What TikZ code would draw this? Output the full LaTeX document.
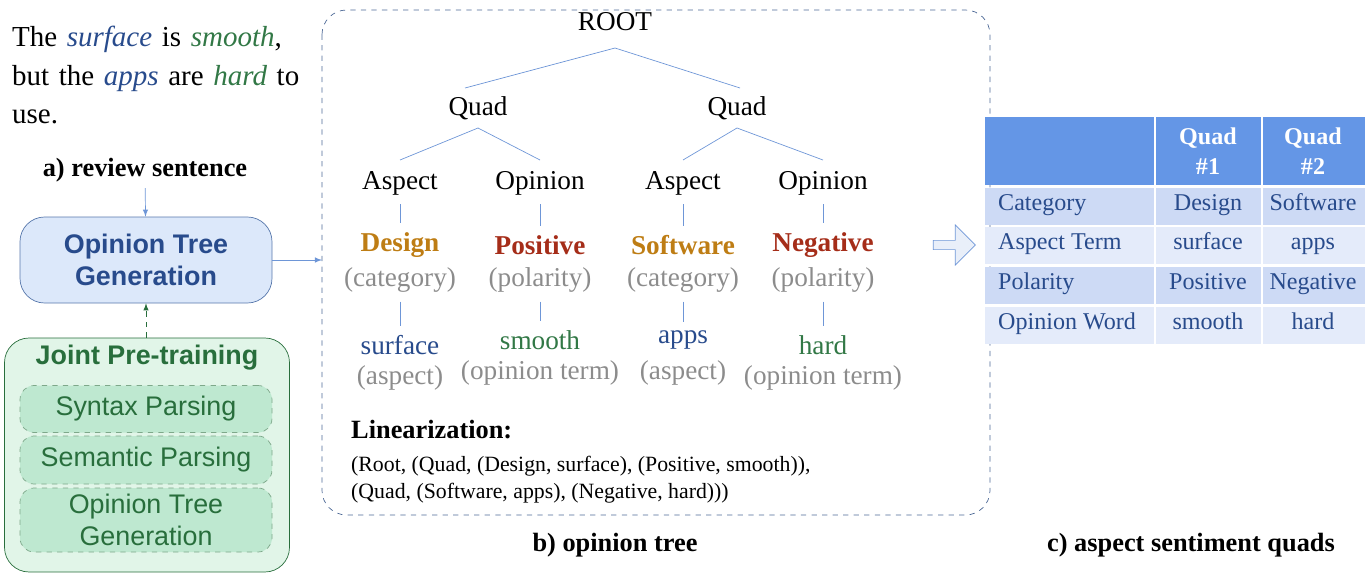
\documentclass[tikz,border=0pt]{standalone}
\usepackage{fontspec}
\setmainfont{Liberation Serif}
\newfontfamily\boxfont{Liberation Sans}
\usetikzlibrary{positioning, arrows, calc, shapes.arrows}
\definecolor{asp}{RGB}{40,75,140}
\definecolor{opi}{RGB}{50,120,70}
\definecolor{cat}{RGB}{190,125,20}
\definecolor{pol}{RGB}{165,45,25}
\definecolor{lbl}{RGB}{140,140,140}
\definecolor{edge}{RGB}{110,150,215}
\definecolor{jgreen}{RGB}{40,110,60}
\definecolor{jfill}{RGB}{225,245,232}
\definecolor{sfill}{RGB}{190,232,208}
\definecolor{gfill}{RGB}{220,232,250}
\definecolor{hdr}{RGB}{100,150,230}
\definecolor{rowA}{RGB}{205,218,245}
\definecolor{rowB}{RGB}{228,235,250}
\begin{document}
\begin{tikzpicture}[x=0.02cm, y=-0.02cm,
    word/.style={font=\fontsize{15.5}{18}\selectfont, inner sep=1pt},
    tag/.style={word, text=lbl},
    bold/.style={word, font=\fontsize{15.5}{18}\selectfont\bfseries},
    treeEdge/.style={draw=edge, thin},
    caption/.style={font=\fontsize{15}{18}\selectfont\bfseries},
    genBox/.style={rectangle, draw=edge!80!black, fill=gfill, rounded corners=14pt, align=center, font=\fontsize{15.3}{18}\selectfont\boxfont\bfseries, text=asp},
    preBox/.style={rectangle, draw=jgreen, fill=jfill, rounded corners=14pt},
    subBox/.style={rectangle, draw=jgreen!60, dashed, fill=sfill, rounded corners=8pt, align=center, font=\fontsize{15.3}{18}\selectfont\boxfont, text=jgreen, minimum width=252*0.02cm},
    cell/.style={font=\fontsize{13.7}{16}\selectfont, text=asp, text height=1.6ex, text depth=0.45ex},
    hdrCell/.style={font=\fontsize{13.7}{17}\selectfont\bfseries, text=white, align=center}]
 \useasboundingbox (0,0) rectangle (1370,575);

 % a) review sentence
 \node[word, font=\fontsize{16.5}{19}\selectfont, anchor=west, align=left, text width=300*0.02cm] (sent) at (10,75)
   {The \textcolor{asp}{\itshape surface} is \textcolor{opi}{\itshape smooth},\\[3pt]
    but the \textcolor{asp}{\itshape apps} are \textcolor{opi}{\itshape hard} to\\[3pt] use.};
 \node[caption] (capA) at (145,170) {a) review sentence};

 \node[genBox, minimum width=252*0.02cm, minimum height=86*0.02cm] (gen) at (146,260) {Opinion Tree\\Generation};
 \node[preBox, minimum width=285*0.02cm, minimum height=234*0.02cm] (pre) at (147,455) {};
 \node[font=\fontsize{15.3}{18}\selectfont\boxfont\bfseries, text=jgreen] (preT) at (147,358) {Joint Pre-training};
 \node[subBox, minimum height=47*0.02cm] (syn) at (146,409) {Syntax Parsing};
 \node[subBox, minimum height=48*0.02cm] (sem) at (146,460) {Semantic Parsing};
 \node[subBox, minimum height=64*0.02cm] (otg) at (146,520) {Opinion Tree\\Generation};

 \draw[->, >=latex, edge] (capA) -- (gen);
 \draw[->, >=latex, dashed, jgreen] (pre.north -| gen.south) -- (gen);

 % b) opinion tree
 \draw[dashed, edge!70!black, rounded corners=14pt] (322,10) rectangle (990,515);
 \coordinate (treeIn) at (322,260);
 \draw[->, >=latex, edge] (gen.east) -- (treeIn);

 \node[word] (root) at (615,22) {ROOT};
 \node[word] (quadA) at (478,108) {Quad};
 \node[word] (quadB) at (737,108) {Quad};
 \foreach \n/\x/\t in {aspA/400/Aspect, opiA/540/Opinion, aspB/683/Aspect, opiB/823/Opinion}
   \node[word] (\n) at (\x,183) {\t};
 \coordinate (rootF) at (615,48);
 \draw[treeEdge] (465,88) -- (rootF) -- (740,88);
 \draw[treeEdge] (400,160) -- (478,128) -- (540,160);
 \draw[treeEdge] (683,160) -- (737,128) -- (823,160);

 \node[bold, text=cat] (desA) at (400,245) {Design};
 \node[bold, text=pol] (polA) at (540,245) {Positive};
 \node[bold, text=cat] (desB) at (683,245) {Software};
 \node[bold, text=pol] (polB) at (823,245) {Negative};
 \node[tag] (desAt) at (400,280) {(category)};
 \node[tag] (polAt) at (540,280) {(polarity)};
 \node[tag] (desBt) at (683,280) {(category)};
 \node[tag] (polBt) at (823,280) {(polarity)};
 \node[word, text=asp] (trmA) at (400,345) {surface};
 \node[word, text=opi] (wrdA) at (540,340) {smooth};
 \node[word, text=asp] (trmB) at (683,340) {apps};
 \node[word, text=opi] (wrdB) at (823,345) {hard};
 \node[tag] (trmAt) at (400,378) {(aspect)};
 \node[tag] (wrdAt) at (540,373) {(opinion term)};
 \node[tag] (trmBt) at (683,373) {(aspect)};
 \node[tag] (wrdBt) at (823,378) {(opinion term)};
 \foreach \a/\b in {aspA/desA, opiA/polA, aspB/desB, opiB/polB, desAt/trmA, polAt/wrdA, desBt/trmB, polBt/wrdB}
   \draw[treeEdge] ([yshift=-4pt]\a.south) -- ([yshift=4pt]\b.north);

 \node[font=\fontsize{15}{18}\selectfont\bfseries, anchor=west] (linT) at (345,430) {Linearization:};
 \node[font=\fontsize{12.4}{15.5}\selectfont, anchor=north west, align=left] (lin) at (345,450)
   {(Root, (Quad, (Design, surface), (Positive, smooth)),\\(Quad, (Software, apps), (Negative, hard)))};
 \node[caption] (capB) at (615,545) {b) opinion tree};

 % c) aspect sentiment quads
 \node[single arrow, draw=edge, fill=edge!15, minimum width=40*0.02cm, single arrow head extend=4pt, minimum height=42*0.02cm, inner sep=1pt] (bigArr) at (952,245) {};

 \fill[hdr] (985,117) rectangle (1365,185);
 \foreach \y/\c in {188/rowA, 227/rowB, 267/rowA, 307/rowB}
   \fill[\c] (985,\y) rectangle (1365,\y+37);
 \draw[white, line width=1.5pt] (1155,117) -- (1155,344) (1262,117) -- (1262,344);
 \node[hdrCell] (hA) at (1208,151) {Quad\\\#1};
 \node[hdrCell] (hB) at (1313,151) {Quad\\\#2};
 \foreach \y/\k/\u/\v in {206/Category/Design/Software, 245/Aspect Term/surface/apps, 285/Polarity/Positive/Negative, 325/Opinion Word/smooth/hard} {
   \node[cell, anchor=west] at (992,\y) {\k};
   \node[cell] at (1208,\y) {\u};
   \node[cell] at (1313,\y) {\v};
 }
 \node[caption] (capC) at (1191,545) {c) aspect sentiment quads};
\end{tikzpicture}
\end{document}
